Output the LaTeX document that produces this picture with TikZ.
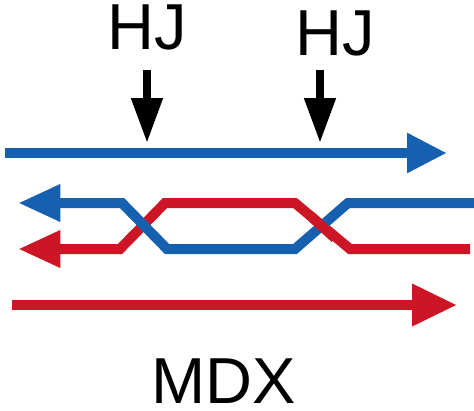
\documentclass[tikz,border=0pt]{standalone}
\usepackage{fontspec}
\setmainfont{Liberation Sans}
\usetikzlibrary{arrows.meta}

\definecolor{strandblue}{RGB}{22,96,176}
\definecolor{strandred}{RGB}{204,22,38}

\begin{document}
\begin{tikzpicture}[x=0.02cm, y=-0.02cm,
    strand/.style={line width=0.2cm},
    cut/.style={line width=0.16cm, -{Triangle[length=0.9cm, width=0.6cm]}},
    label/.style={font=\fontsize{37}{37}\selectfont, inner sep=0pt}]
    \useasboundingbox (0, 0) rectangle (474, 410);

    % cut sites
    \node [label] (hj1) at (147, 27) {HJ};
    \node [label] (hj2) at (335, 33) {HJ};
    \coordinate (c1) at (147, 143);
    \coordinate (c2) at (320, 143);
    \draw [cut] (147, 70) -- (c1);
    \draw [cut] (320, 70) -- (c2);

    % outer strands
    \draw [strand, strandblue, -{Triangle[length=0.8cm, width=0.75cm]}] (5, 153) -- (447, 153);
    \draw [strand, strandred, -{Triangle[length=0.9cm, width=0.8cm]}] (12, 305) -- (457, 305);

    % exchanged strands
    \draw [strand, strandred, {Triangle[length=0.85cm, width=0.7cm]}-] (18, 249) -- (120, 249)
        -- (165, 203) -- (295, 203) -- (350, 249) -- (470, 249);
    \draw [strand, strandblue, {Triangle[length=0.85cm, width=0.7cm]}-] (18, 203) -- (122, 203)
        -- (167, 249) -- (295, 249) -- (348, 203) -- (474, 203);
    % red crosses over blue on the right
    \draw [strand, strandred] (310, 215.5) -- (335, 238.2);

    \node [label] (mdx) at (224, 381) {MDX};

\end{tikzpicture}
\end{document}
